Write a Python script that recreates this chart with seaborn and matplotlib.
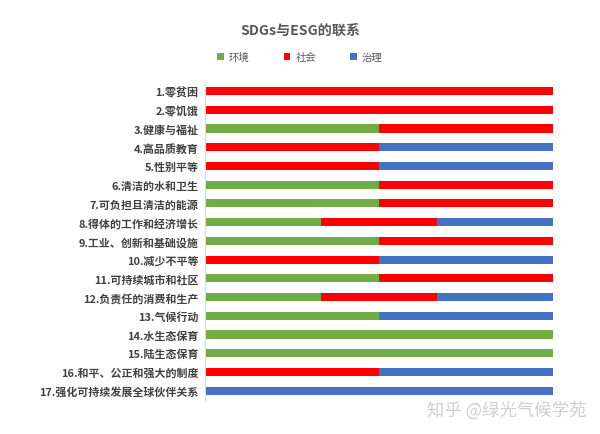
import numpy as np
import pandas as pd
import seaborn as sns
import matplotlib.pyplot as plt
from matplotlib.patches import Patch

# SDG goals and which ESG pillar each one touches (1 = linked)
goals = [
    "1.零贫困", "2.零饥饿", "3.健康与福祉", "4.高品质教育", "5.性别平等",
    "6.清洁的水和卫生", "7.可负担且清洁的能源", "8.得体的工作和经济增长",
    "9.工业、创新和基础设施", "10.减少不平等", "11.可持续城市和社区",
    "12.负责任的消费和生产", "13.气候行动", "14.水生态保育", "15.陆生态保育",
    "16.和平、公正和强大的制度", "17.强化可持续发展全球伙伴关系",
]
env = [0, 0, 1, 0, 0, 1, 1, 1, 1, 0, 1, 1, 1, 1, 1, 0, 0]
soc = [1, 1, 1, 1, 1, 1, 1, 1, 1, 1, 1, 1, 0, 0, 0, 1, 0]
gov = [0, 0, 0, 1, 1, 0, 0, 1, 0, 1, 0, 1, 1, 0, 0, 1, 1]
series_names = ["环境", "社会", "治理"]
colors = ["#70AD47", "#FF0000", "#4472C4"]

sns.set_style("white")
plt.rcParams["font.family"] = ["Noto Sans CJK SC", "DejaVu Sans"]

df = pd.DataFrame({"goal": goals, "env": env, "soc": soc, "gov": gov})
total = df[["env", "soc", "gov"]].sum(axis=1)
df["c_env"] = df["env"] / total
df["c_soc"] = (df["env"] + df["soc"]) / total
df["c_gov"] = (df["env"] + df["soc"] + df["gov"]) / total

fig = plt.figure(figsize=(6, 4.35), dpi=100)
ax = fig.add_axes([0.342, 0.078, 0.58, 0.732])

# stacked bars: draw cumulative totals back to front
for col, c in [("c_gov", colors[2]), ("c_soc", colors[1]), ("c_env", colors[0])]:
    sns.barplot(data=df, x=col, y="goal", color=c, orient="h", width=0.43,
                saturation=1, ax=ax, linewidth=0)

ax.set_xlim(0, 1)
ax.set_ylim(16.5, -0.5)
ax.set_xlabel("")
ax.set_ylabel("")
ax.set_xticks([])
ax.tick_params(axis="y", length=0, pad=5)
for lab in ax.get_yticklabels():
    lab.set_fontsize(7.9)
    lab.set_fontweight("bold")
    lab.set_color("#404040")
for s in ["top", "right", "bottom"]:
    ax.spines[s].set_visible(False)
ax.spines["left"].set_color("#d9d9d9")
ax.spines["left"].set_linewidth(0.8)

fig.text(0.5, 0.93, "SDGs与ESG的联系", ha="center", va="center",
         fontsize=10.2, fontweight="bold", color="#595959")

handles = [Patch(facecolor=c, edgecolor="none", label=n) for n, c in zip(series_names, colors)]
fig.legend(handles=handles, loc="center", bbox_to_anchor=(0.5, 0.867), ncol=3,
           frameon=False, fontsize=7.5, handlelength=0.6, handleheight=0.6,
           handletextpad=0.5, columnspacing=3.3, labelcolor="#595959")

fig.text(0.978, 0.057, "知乎 @绿光气候学苑", ha="right", va="center",
         fontsize=12.5, color="#cfcfcf")

fig.savefig("out.png", dpi=100)
